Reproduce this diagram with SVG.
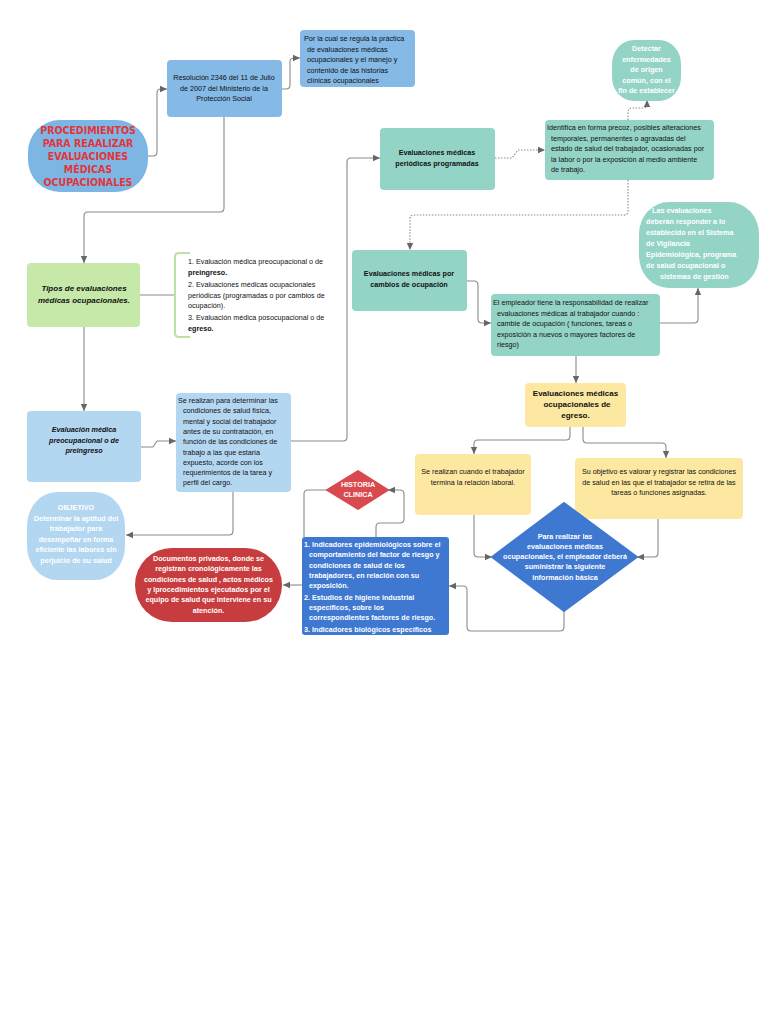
<svg xmlns="http://www.w3.org/2000/svg" width="768" height="1024" viewBox="0 0 768 1024">
<defs>
<marker id="ah" markerWidth="8" markerHeight="8" refX="7" refY="4" orient="auto" markerUnits="userSpaceOnUse">
<path d="M0,0.8 L7,4 L0,7.2 Z" fill="#666"/>
</marker>
<style>
.t{font-family:"Liberation Sans",Arial,sans-serif;font-size:7.2px;fill:#111}
.b{font-weight:bold}
.w{fill:#fff;font-weight:bold}
.c{text-anchor:middle}
.i{font-style:italic;font-weight:bold}
.big{font-size:8px}
.ttl{font-family:"DejaVu Sans Condensed","DejaVu Sans",sans-serif;font-size:10.5px;font-weight:bold;fill:#e2343a;text-anchor:middle}
.ln{fill:none;stroke:#8a8a8a;stroke-width:1.1}
.dt{fill:none;stroke:#8a8a8a;stroke-width:1.1;stroke-dasharray:1.5,1.5}
.teal{fill:#94d4c6}
.lb{fill:#b4d7f1}
.mb{fill:#85b9e6}
.yl{fill:#fde8a2}
</style>
</defs>
<rect width="768" height="1024" fill="#fff"/>

<g id="connectors">
<path class="ln" d="M148,156 H153 Q157,156 157,152 V93 Q157,89 161,89 H167" marker-end="url(#ah)"/>
<path class="ln" d="M282,89 H286 Q290,89 290,85 V62 Q290,58 294,58 H300" marker-end="url(#ah)"/>
<path class="ln" d="M224,117 V208 Q224,212 220,212 H88 Q84,212 84,216 V263" marker-end="url(#ah)"/>
<path class="ln" d="M140,295 H175" stroke="#b7e29b"/>
<path d="M190,253 H179 Q175,253 175,257 V333 Q175,337 179,337 H190" fill="none" stroke="#b9e39e" stroke-width="2"/>
<path class="ln" d="M84,327 V411" marker-end="url(#ah)"/>
<path class="ln" d="M141,447 H153 L157,441 H176" marker-end="url(#ah)"/>
<path class="ln" d="M291,441 H343 Q347,441 347,437 V162 Q347,158 351,158 H380" marker-end="url(#ah)"/>
<path class="ln" d="M233,492 V531 Q233,535 229,535 H126" marker-end="url(#ah)"/>
<path class="dt" d="M495,158 H512 L518,150 H545" marker-end="url(#ah)"/>
<path class="dt" d="M628,120 V112 Q628,108 632,108 H643 Q647,108 647,104 V100" marker-end="url(#ah)"/>
<path class="dt" d="M628,180 V211 Q628,215 624,215 H414 Q410,215 410,219 V250" marker-end="url(#ah)"/>
<path class="ln" d="M467,281 H474 Q478,281 478,285 V319 Q478,323 482,323 H491" marker-end="url(#ah)"/>
<path class="ln" d="M660,323 H694 Q698,323 698,319 V288" marker-end="url(#ah)"/>
<path class="ln" d="M576,356 V383" marker-end="url(#ah)"/>
<path class="ln" d="M570,427 V436 Q570,440 566,440 H478 Q474,440 474,444 V454" marker-end="url(#ah)"/>
<path class="ln" d="M583,427 V439 Q583,443 587,443 H662 Q666,443 666,447 V458" marker-end="url(#ah)"/>
<path class="ln" d="M474,515 V553 Q474,557 478,557 H492" marker-end="url(#ah)"/>
<path class="ln" d="M658,519 V553 Q658,557 654,557 H637" marker-end="url(#ah)"/>
<path class="ln" d="M564,610 V627 Q564,631 560,631 H471 Q467,631 467,627 V590 Q467,586 463,586 H449" marker-end="url(#ah)"/>
<path class="ln" d="M376,537 V527 Q376,523 380,523 H400 Q404,523 404,519 V494 Q404,490 400,490 H388" marker-end="url(#ah)"/>
<path class="ln" d="M304,537 V494 Q304,490 308,490 H327"/>
<path class="ln" d="M302,585 H283" marker-end="url(#ah)"/>
</g>

<g id="titulo">
<rect x="28" y="120" width="120" height="72" rx="32" ry="32" fill="#7db6e3"/>
<text class="ttl" x="88" y="134">PROCEDIMIENTOS</text>
<text class="ttl" x="88" y="147">PARA REAALIZAR</text>
<text class="ttl" x="88" y="160">EVALUACIONES</text>
<text class="ttl" x="88" y="173">MÉDICAS</text>
<text class="ttl" x="88" y="186">OCUPACIONALES</text>
</g>

<g id="resolucion">
<rect class="mb" x="167" y="60" width="115" height="57" rx="4"/>
<text class="t c" x="224" y="80">Resolución 2346 del 11 de Julio</text>
<text class="t c" x="224" y="90.5">de 2007 del Ministerio de la</text>
<text class="t c" x="224" y="101">Protección Social</text>
</g>

<g id="regula">
<rect class="mb" x="300" y="30" width="115" height="57" rx="4"/>
<text class="t" x="304" y="41">Por la cual se regula la práctica</text>
<text class="t" x="307" y="51.5">de evaluaciones médicas</text>
<text class="t" x="307" y="62">ocupacionales y el manejo y</text>
<text class="t" x="307" y="72.5">contenido de las historias</text>
<text class="t" x="307" y="83">clínicas ocupacionales</text>
</g>

<g id="tipos">
<rect x="27" y="263" width="113" height="64" rx="4" fill="#c6e9aa"/>
<text class="t i c big" x="84" y="291">Tipos de evaluaciones</text>
<text class="t i c big" x="84" y="302.5">médicas ocupacionales.</text>
</g>

<g id="lista-tipos">
<text class="t" x="188" y="264">1. Evaluación médica preocupacional o de</text>
<text class="t b" x="188" y="274.5">preingreso.</text>
<text class="t" x="188" y="287">2. Evaluaciones médicas ocupacionales</text>
<text class="t" x="188" y="297.5">periódicas (programadas o por cambios de</text>
<text class="t" x="188" y="308">ocupación).</text>
<text class="t" x="188" y="320">3. Evaluación médica posocupacional o de</text>
<text class="t b" x="188" y="330.5">egreso.</text>
</g>

<g id="preocupacional">
<rect class="lb" x="27" y="411" width="114" height="71" rx="4"/>
<text class="t i c" x="84" y="432">Evaluación médica</text>
<text class="t i c" x="84" y="442.5">preocupacional o de</text>
<text class="t i c" x="84" y="453">preingreso</text>
</g>

<g id="se-realizan">
<rect class="lb" x="176" y="393" width="115" height="99" rx="4"/>
<text class="t" x="178" y="403">Se realizan para determinar las</text>
<text class="t" x="183" y="413.3">condiciones de salud física,</text>
<text class="t" x="183" y="423.6">mental y social del trabajador</text>
<text class="t" x="183" y="433.9">antes de su contratación, en</text>
<text class="t" x="183" y="444.2">función de las condiciones de</text>
<text class="t" x="183" y="454.5">trabajo a las que estaría</text>
<text class="t" x="183" y="464.8">expuesto, acorde con los</text>
<text class="t" x="183" y="475.1">requerimientos de la tarea y</text>
<text class="t" x="183" y="485.4">perfil del cargo.</text>
</g>

<g id="objetivo">
<rect class="lb" x="27" y="492" width="98" height="88" rx="30" ry="34"/>
<text class="t w c" x="76" y="510">OBJETIVO</text>
<text class="t w c" x="76" y="520.5">Determinar la aptitud del</text>
<text class="t w c" x="76" y="531">trabajador para</text>
<text class="t w c" x="76" y="541.5">desempeñar en forma</text>
<text class="t w c" x="76" y="552">eficiente las labores sin</text>
<text class="t w c" x="76" y="562.5">perjuicio de su salud</text>
</g>

<g id="periodicas">
<rect class="teal" x="380" y="128" width="115" height="62" rx="4"/>
<text class="t b c" x="437" y="155">Evaluaciones médicas</text>
<text class="t b c" x="437" y="165.5">periódicas programadas</text>
</g>

<g id="identifica">
<rect class="teal" x="545" y="120" width="169" height="60" rx="4"/>
<text class="t" x="547" y="130">Identifica en forma precoz, posibles alteraciones</text>
<text class="t" x="551" y="140.5">temporales, permanentes o agravadas del</text>
<text class="t" x="551" y="151">estado de salud del trabajador, ocasionadas por</text>
<text class="t" x="551" y="161.5">la labor o por la exposición al medio ambiente</text>
<text class="t" x="551" y="172">de trabajo.</text>
</g>

<g id="detectar">
<rect class="teal" x="612" y="40" width="69" height="61" rx="22" ry="24"/>
<text class="t w c" x="646.5" y="51">Detectar</text>
<text class="t w c" x="646.5" y="61.5">enfermedades</text>
<text class="t w c" x="646.5" y="72">de origen</text>
<text class="t w c" x="646.5" y="82.5">común, con el</text>
<text class="t w c" x="646.5" y="93">fin de establecer</text>
</g>

<g id="cambios">
<rect class="teal" x="352" y="250" width="115" height="61" rx="4"/>
<text class="t b c" x="409" y="276">Evaluaciones médicas por</text>
<text class="t b c" x="409" y="286.5">cambios de ocupación</text>
</g>

<g id="empleador">
<rect class="teal" x="491" y="294" width="169" height="62" rx="4"/>
<text class="t" x="493" y="305">El empleador tiene la responsabilidad de realizar</text>
<text class="t" x="497" y="315.5">evaluaciones médicas al trabajador cuando :</text>
<text class="t" x="497" y="326">cambie de ocupación ( funciones, tareas o</text>
<text class="t" x="497" y="336.5">exposición a nuevos o mayores factores de</text>
<text class="t" x="497" y="347">riesgo)</text>
</g>

<g id="sistema">
<rect class="teal" x="639" y="202" width="120" height="86" rx="30" ry="32"/>
<text class="t w" x="652" y="213">Las evaluaciones</text>
<text class="t w" x="646" y="224">deberán responder a lo</text>
<text class="t w" x="646" y="235">establecido en el Sistema</text>
<text class="t w" x="646" y="246">de Vigilancia</text>
<text class="t w" x="646" y="257">Epidemiológica, programa</text>
<text class="t w" x="646" y="268">de salud ocupacional o</text>
<text class="t w" x="660" y="279">sistemas de gestión</text>
</g>

<g id="egreso">
<rect class="yl" x="525" y="383" width="101" height="44" rx="4"/>
<text class="t b c big" x="575.5" y="395.5">Evaluaciones médicas</text>
<text class="t b c big" x="577" y="406.5">ocupacionales de</text>
<text class="t b c big" x="575.5" y="417.5">egreso.</text>
</g>

<g id="termina">
<rect class="yl" x="415" y="454" width="116" height="61" rx="4"/>
<text class="t c" x="473" y="474">Se realizan cuando  el trabajador</text>
<text class="t c" x="473" y="485">termina la relación laboral.</text>
</g>

<g id="valorar">
<rect class="yl" x="575" y="458" width="168" height="61" rx="4"/>
<text class="t c" x="659" y="474">Su objetivo es valorar y registrar las condiciones</text>
<text class="t c" x="659" y="484.5">de salud en las que el trabajador se retira de las</text>
<text class="t c" x="659" y="495">tareas o funciones asignadas.</text>
</g>

<g id="informacion">
<path d="M564,503 L637,557 L564,611 L492,557 Z" fill="#3e78d1" stroke="#3e78d1" stroke-width="2" stroke-linejoin="round"/>
<text class="t w c" x="565" y="539">Para realizar las</text>
<text class="t w c" x="565" y="549">evaluaciones médicas</text>
<text class="t w c" x="565" y="559">ocupacionales, el empleador deberá</text>
<text class="t w c" x="565" y="569">suministrar la siguiente</text>
<text class="t w c" x="565" y="579.5">información básica</text>
</g>

<g id="indicadores">
<rect x="302" y="537" width="147" height="98" rx="3" fill="#3e78d1"/>
<text class="t w" x="304" y="547">1. Indicadores epidemiológicos sobre el</text>
<text class="t w" x="309" y="557.3">comportamiento del factor de riesgo y</text>
<text class="t w" x="309" y="567.6">condiciones de salud de los</text>
<text class="t w" x="309" y="577.9">trabajadores, en relación con su</text>
<text class="t w" x="309" y="588.2">exposición.</text>
<text class="t w" x="304" y="599.5">2. Estudios de higiene industrial</text>
<text class="t w" x="309" y="609.8">específicos, sobre los</text>
<text class="t w" x="309" y="620.1">correspondientes factores de riesgo.</text>
<text class="t w" x="304" y="631.5">3. Indicadores biológicos específicos</text>
</g>

<g id="historia">
<path d="M358,471 L388,490 L358,509 L327,490 Z" fill="#d94a4e" stroke="#d94a4e" stroke-width="2" stroke-linejoin="round"/>
<text class="t w c" x="358" y="487">HISTORIA</text>
<text class="t w c" x="358" y="497">CLINICA</text>
</g>

<g id="documentos">
<rect x="135" y="548" width="147" height="74" rx="37" fill="#c73c3e"/>
<text class="t w c" x="208.5" y="561">Documentos privados, donde se</text>
<text class="t w c" x="208.5" y="571.3">registran cronológicamente las</text>
<text class="t w c" x="208.5" y="581.6">condiciones de salud , actos médicos</text>
<text class="t w c" x="208.5" y="591.9">y lprocedimientos ejecutados por el</text>
<text class="t w c" x="208.5" y="602.2">equipo de salud que interviene en su</text>
<text class="t w c" x="208.5" y="612.5">atención.</text>
</g>
</svg>
